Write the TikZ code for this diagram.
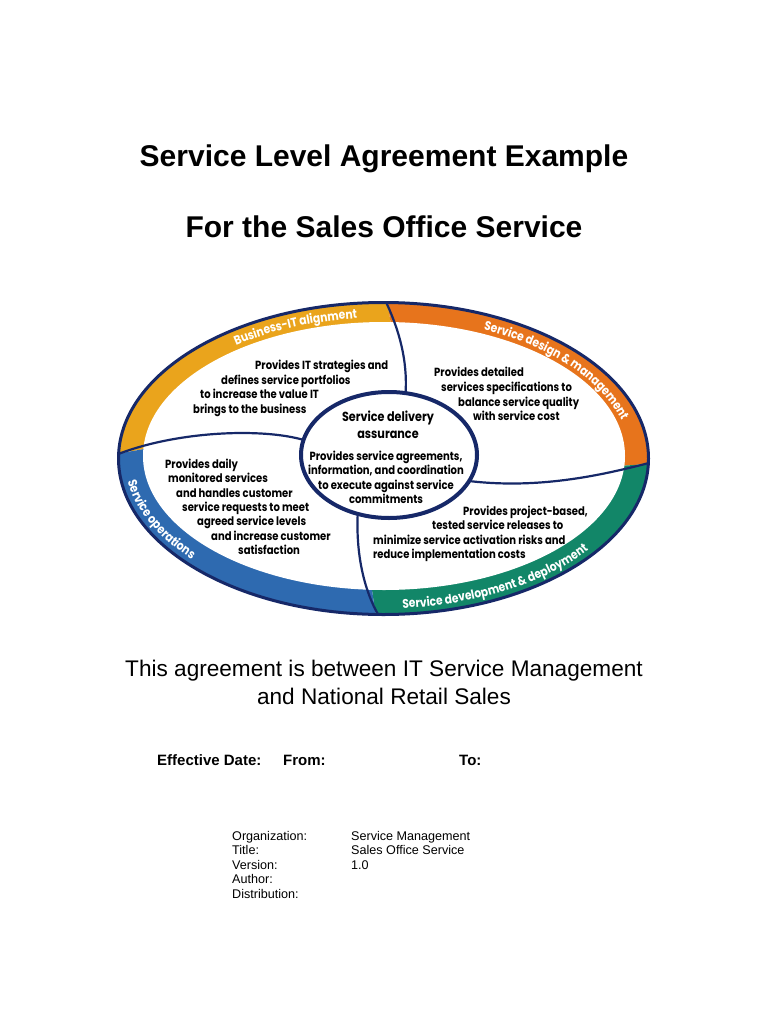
\documentclass[tikz,border=0pt]{standalone}
\usepackage{fontspec}
\setmainfont{Liberation Sans}
\newfontfamily\futura[FakeStretch=0.85]{Poppins}
\usetikzlibrary{shapes.geometric,decorations.text,positioning}

\definecolor{ringnavy}{RGB}{22,40,104}
\definecolor{bandgold}{RGB}{234,164,28}
\definecolor{bandorange}{RGB}{231,116,28}
\definecolor{bandgreen}{RGB}{18,134,104}
\definecolor{bandblue}{RGB}{46,106,176}

\newcommand{\bodyfont}{\futura\bfseries\fontsize{11.8}{14.2}\selectfont}
\newcommand{\bandfont}{\futura\bfseries\fontsize{12.6}{12.6}\selectfont}
\newcommand{\hubfont}{\futura\bfseries\fontsize{13.2}{17}\selectfont}

\tikzset{
  split/.style={draw=ringnavy, line width=2.2pt},
  quadline/.style={font=\bodyfont, anchor=base west, inner sep=0pt},
  bandtext/.style={decorate, decoration={text along path, text={|\bandfont|#1}, text align=center, text color=white}},
  meta/.style={font=\fontsize{12.6}{14.6}\selectfont, anchor=base west, inner sep=0pt},
}

\begin{document}
\begin{tikzpicture}[x=1pt,y=1pt]
    \useasboundingbox[fill=white] (0,0) rectangle (768,-1024);
    % titles
    \node[font=\bfseries\fontsize{30}{36}\selectfont, anchor=base] (title) at (384,-167) {Service Level Agreement Example};
    \node[font=\bfseries\fontsize{30}{36}\selectfont, anchor=base] (subtitle) at (384,-237) {For the Sales Office Service};
    % coloured band
    \coordinate (c) at (383.5,-458.5);
    \begin{scope}
    \clip (c) ellipse (264 and 155);
    \fill[bandgold] (384,-458) -- (150,-448) -- (110,-455) -- (110,-290) -- (385,-290) -- (392,-330) -- cycle;
    \fill[bandorange] (384,-458) -- (392,-330) -- (385,-290) -- (660,-290) -- (660,-463) -- (620,-466) -- cycle;
    \fill[bandgreen] (384,-458) -- (620,-466) -- (660,-463) -- (660,-630) -- (378,-630) -- (372,-590) -- cycle;
    \fill[bandblue] (384,-458) -- (372,-590) -- (378,-630) -- (110,-630) -- (110,-455) -- (150,-448) -- cycle;
    \fill[white] (384,-456) ellipse (241 and 134);
    \end{scope}
    \node[draw=ringnavy, line width=3pt, ellipse, minimum width=530, minimum height=312, inner sep=0pt, outer sep=0pt] (ring) at (c) {};
    \node[draw=ringnavy, line width=4pt, fill=white, ellipse, minimum width=176, minimum height=126, inner sep=0pt, outer sep=0pt] (hub) at (389,-455) {};
    % dividing lines
    \draw[split] (ring.89) .. controls +(13,-28) and +(2,33) .. (hub.75);
    \draw[split] (ring.179) .. controls +(60,23) and +(-41,12) .. (hub.170);
    \draw[split] (hub.-18) .. controls +(68,-8) and +(-50,-13) .. (ring.-1);
    \draw[split] (hub.242) .. controls +(-2,-45) and +(-12,21) .. (ring.268);
    % band labels
    \path[bandtext={Business-IT alignment}] ([shift={(144:247 and 141)}]c) arc[start angle=144, end angle=82, x radius=247, y radius=141];
    \path[bandtext={Service design {\&} management}] ([shift={(75:247 and 141)}]c) arc[start angle=75, end angle=1, x radius=247, y radius=141];
    \path[bandtext={Service development {\&} deployment}] ([shift={(258:259 and 150)}]c) arc[start angle=258, end angle=346, x radius=259, y radius=150];
    \path[bandtext={Service operations}] ([shift={(166:259 and 150)}]c) arc[start angle=166, end angle=238, x radius=259, y radius=150];
    % quadrant texts
    \foreach \txt/\dx [count=\i] in {Provides IT strategies and/62, defines service portfolios/28, to increase the value IT/7, brings to the business/0}
      \node[quadline] (strategy\i) at ({193+\dx},{-369.5-14.5*(\i-1)}) {\txt};
    \foreach \txt/\dx [count=\i] in {Provides detailed/0, services specifications to/7, balance service quality/24, with service cost/39}
      \node[quadline] (design\i) at ({434+\dx},{-376.5-14.8*(\i-1)}) {\txt};
    \foreach \txt/\dx [count=\i] in {Provides daily/0, monitored services/3, and handles customer/11, service requests to meet/17, agreed service levels/32, and increase customer/46, satisfaction/73}
      \node[quadline] (operations\i) at ({165+\dx},{-468.5-14.35*(\i-1)}) {\txt};
    \foreach \txt/\dx [count=\i] in {{Provides project-based,}/90, tested service releases to/59, minimize service activation risks and/0, reduce implementation costs/0}
      \node[quadline] (deployment\i) at ({373+\dx},{-515.5-14.3*(\i-1)}) {\txt};
    % hub texts
    \node[font=\hubfont, align=center, inner sep=0pt, anchor=north] (hubhead) at (388,-411) {Service delivery\\assurance};
    \node[font=\bodyfont, align=center, inner sep=0pt, anchor=north] (hubtext) at (386,-451) {Provides service agreements,\\information, and coordination\\to execute against service\\commitments};
    % agreement
    \node[font=\fontsize{22.6}{28}\selectfont, anchor=base] (parties) at (384,-676) {This agreement is between IT Service Management};
    \node[font=\fontsize{22.6}{28}\selectfont, anchor=base] (partiestwo) at (384,-704) {and National Retail Sales};
    \node[meta, font=\bfseries\fontsize{15}{18}\selectfont] (effective) at (157,-765) {Effective Date:};
    \node[meta, font=\bfseries\fontsize{15}{18}\selectfont] (from) at (283,-765) {From:};
    \node[meta, font=\bfseries\fontsize{15}{18}\selectfont] (to) at (459,-765) {To:};
    \foreach \lab [count=\i] in {Organization:,Title:,Version:,Author:,Distribution:}
      \node[meta] (lab\i) at (232,{-840-14.6*(\i-1)}) {\lab};
    \foreach \val [count=\i] in {Service Management,Sales Office Service,1.0}
      \node[meta] (val\i) at (351,{-840-14.6*(\i-1)}) {\val};
\end{tikzpicture}
\end{document}
